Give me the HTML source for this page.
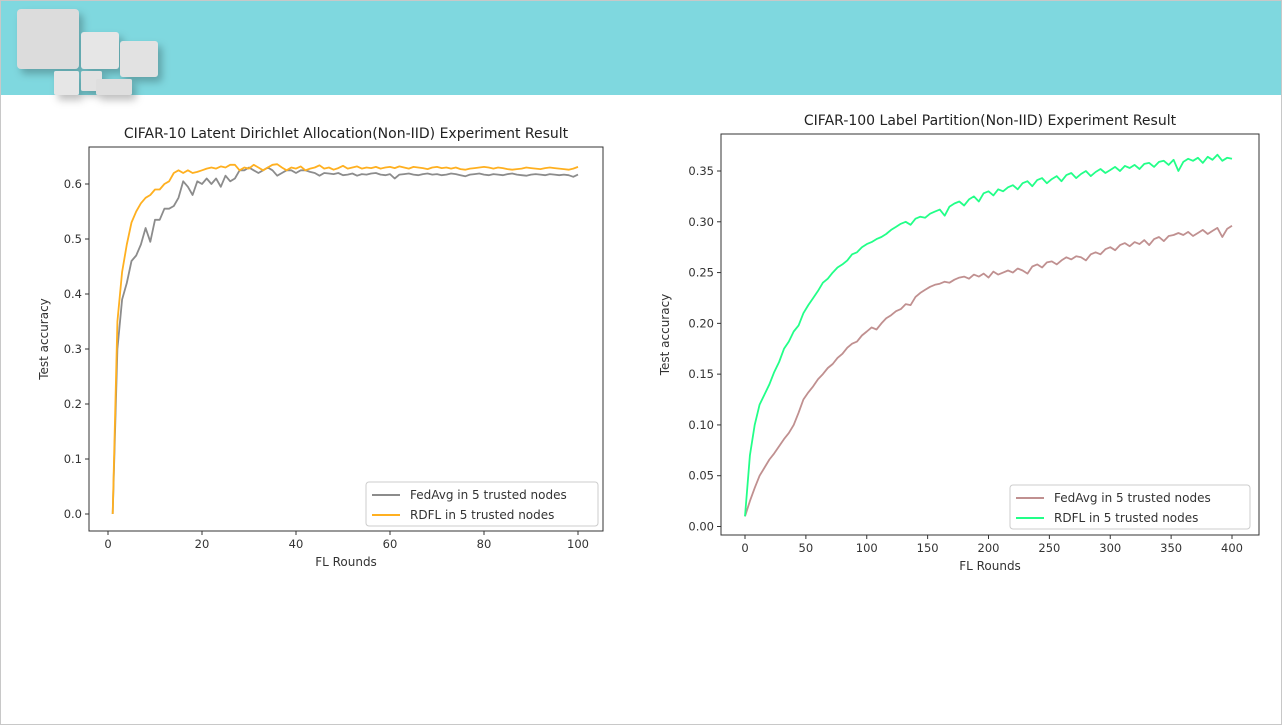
<!DOCTYPE html>
<html><head><meta charset="utf-8"><style>
body{margin:0;background:#fff}
svg{display:block;font-family:"DejaVu Sans","Liberation Sans",sans-serif}
</style></head><body>
<svg id="s" width="1282" height="725" viewBox="0 0 1282 725">
<defs><filter id="sh" x="-30%" y="-30%" width="160%" height="160%"><feDropShadow dx="4" dy="5" stdDeviation="4" flood-color="#000" flood-opacity="0.25"/></filter></defs>
<rect x="0.5" y="0.5" width="1281" height="724" fill="#fff" stroke="#c8c8c8"/>
<rect x="1" y="1" width="1280" height="94" fill="#7fd8df"/>
<g filter="url(#sh)">
<rect x="17" y="9" width="62" height="60" rx="4" fill="#dcdcdc"/>
<rect x="81" y="32" width="38" height="37" rx="3" fill="#e6e6e6"/>
<rect x="120" y="41" width="38" height="36" rx="3" fill="#e2e2e2"/>
<rect x="54" y="71" width="25" height="24" rx="2" fill="#e6e6e6"/>
<rect x="81" y="71" width="21" height="20" rx="2" fill="#e2e2e2"/>
<rect x="96" y="79" width="36" height="16" rx="2" fill="#dedede"/>
</g>
<g id="c1"></g>
<g id="c2"></g>
</svg>
<script>
const c10Rounds=[1,100];
const c10FedAvg=[0.0,0.30,0.39,0.42,0.46,0.47,0.49,0.52,0.495,0.535,0.535,0.555,0.555,0.56,0.575,0.605,0.595,0.58,0.605,0.60,0.61,0.60,0.61,0.595,0.615,0.605,0.61,0.625,0.625,0.63,0.625,0.62,0.625,0.63,0.625,0.615,0.62,0.625,0.625,0.62,0.625,0.625,0.622,0.62,0.615,0.62,0.619,0.618,0.62,0.616,0.617,0.619,0.615,0.618,0.617,0.619,0.62,0.617,0.616,0.618,0.61,0.617,0.618,0.619,0.617,0.616,0.618,0.619,0.617,0.618,0.616,0.617,0.619,0.618,0.616,0.614,0.617,0.618,0.619,0.617,0.616,0.618,0.617,0.616,0.618,0.619,0.617,0.616,0.615,0.617,0.618,0.617,0.616,0.618,0.617,0.616,0.617,0.616,0.613,0.617];
const c10RDFL=[0.0,0.35,0.44,0.49,0.53,0.55,0.565,0.575,0.58,0.59,0.59,0.60,0.605,0.62,0.625,0.62,0.625,0.62,0.622,0.625,0.628,0.63,0.628,0.632,0.63,0.635,0.635,0.625,0.63,0.628,0.635,0.63,0.625,0.63,0.635,0.636,0.63,0.625,0.63,0.628,0.632,0.625,0.628,0.63,0.634,0.628,0.63,0.626,0.629,0.633,0.628,0.63,0.632,0.628,0.63,0.629,0.631,0.628,0.63,0.631,0.629,0.632,0.63,0.628,0.631,0.63,0.629,0.627,0.63,0.631,0.629,0.63,0.628,0.63,0.627,0.626,0.628,0.629,0.63,0.631,0.63,0.628,0.63,0.629,0.627,0.626,0.627,0.628,0.63,0.629,0.628,0.627,0.629,0.63,0.629,0.628,0.627,0.626,0.628,0.631];
const c10YTicks=[0.0,0.1,0.2,0.3,0.4,0.5,0.6];
const c10XTicks=[0,20,40,60,80,100];
const c100Rounds=[0,400];
const c100FedAvg=[0.010,0.025,0.038,0.050,0.058,0.066,0.072,0.079,0.086,0.092,0.100,0.112,0.125,0.132,0.138,0.145,0.150,0.156,0.160,0.166,0.170,0.176,0.180,0.182,0.188,0.192,0.196,0.194,0.200,0.205,0.208,0.212,0.214,0.219,0.218,0.226,0.230,0.233,0.236,0.238,0.239,0.241,0.240,0.243,0.245,0.246,0.244,0.248,0.246,0.249,0.245,0.251,0.248,0.250,0.252,0.250,0.254,0.252,0.249,0.256,0.258,0.255,0.260,0.261,0.258,0.262,0.265,0.263,0.266,0.265,0.262,0.268,0.270,0.268,0.273,0.275,0.272,0.277,0.279,0.276,0.280,0.278,0.282,0.277,0.283,0.285,0.281,0.286,0.287,0.289,0.287,0.290,0.286,0.289,0.292,0.288,0.291,0.294,0.285,0.293,0.296];
const c100RDFL=[0.010,0.070,0.100,0.120,0.130,0.140,0.152,0.162,0.175,0.182,0.192,0.198,0.210,0.218,0.225,0.232,0.240,0.244,0.250,0.255,0.258,0.262,0.268,0.270,0.275,0.278,0.280,0.283,0.285,0.288,0.292,0.295,0.298,0.300,0.297,0.303,0.305,0.304,0.308,0.310,0.312,0.306,0.315,0.318,0.320,0.316,0.322,0.325,0.320,0.328,0.330,0.326,0.332,0.330,0.334,0.336,0.332,0.338,0.340,0.335,0.341,0.343,0.338,0.342,0.345,0.340,0.346,0.348,0.343,0.347,0.350,0.345,0.349,0.352,0.348,0.351,0.354,0.350,0.355,0.353,0.356,0.352,0.357,0.358,0.354,0.359,0.360,0.356,0.361,0.350,0.359,0.362,0.360,0.363,0.358,0.364,0.361,0.366,0.360,0.363,0.362];
const c100YTicks=[0.00,0.05,0.10,0.15,0.20,0.25,0.30,0.35];
const c100XTicks=[0,50,100,150,200,250,300,350,400];

const NS='http://www.w3.org/2000/svg';
function mk(p,t,a,txt){const e=document.createElementNS(NS,t);for(const k in a)e.setAttribute(k,a[k]);if(txt!==undefined)e.textContent=txt;p.appendChild(e);return e;}

function chart(g,cfg){
  const {box,x0,x1,px0,px1,y0,y1,py0,py1}=cfg;
  const X=v=>px0+(v-x0)/(x1-x0)*(px1-px0);
  const Y=v=>py0+(v-y0)/(y1-y0)*(py1-py0);
  const t=mk(g,'text',{x:(box[0]+box[2])/2,y:box[1]-9,'text-anchor':'middle','font-size':14,fill:'#222'},cfg.title);
  
  
  cfg.series.forEach(s=>{
    const n=s.v.length;
    const pts=s.v.map((v,i)=>X(cfg.rx[0]+i*(cfg.rx[1]-cfg.rx[0])/(n-1)).toFixed(1)+','+Y(v).toFixed(1)).join(' ');
    const l=mk(g,'polyline',{points:pts,fill:'none',stroke:s.c,'stroke-width':1.8,'stroke-linejoin':'round'});
    
    
  });
  const fr=mk(g,'rect',{x:box[0],y:box[1],width:box[2]-box[0],height:box[3]-box[1],fill:'none',stroke:'#333','stroke-width':1});
  
  
  cfg.yt.forEach(v=>{
    const y=Y(v);
    mk(g,'line',{x1:box[0]-4,x2:box[0],y1:y,y2:y,stroke:'#333'});
    const tl=mk(g,'text',{x:box[0]-7,y:y+4,'text-anchor':'end','font-size':11.5,fill:'#333'},v.toFixed(cfg.yd));
    
    
  });
  cfg.xt.forEach(v=>{
    const x=X(v);
    mk(g,'line',{x1:x,x2:x,y1:box[3],y2:box[3]+4,stroke:'#333'});
    const tl=mk(g,'text',{x:x,y:box[3]+17,'text-anchor':'middle','font-size':11.5,fill:'#333'},String(v));
    
    
  });
  const xl=mk(g,'text',{x:(box[0]+box[2])/2,y:box[3]+35,'text-anchor':'middle','font-size':12,fill:'#333'},'FL Rounds');
  
  
  const yl=mk(g,'text',{x:0,y:0,'text-anchor':'middle','font-size':12,fill:'#333',transform:`translate(${cfg.ylx},${(box[1]+box[3])/2}) rotate(-90)`},'Test accuracy');
  
  
  const lg=mk(g,'g',{});
  
  
  const L=cfg.leg;
  mk(lg,'rect',{x:L[0],y:L[1],width:L[2],height:44,rx:3,fill:'#fff',stroke:'#ccc'});
  cfg.series.forEach((s,i)=>{
    const yy=L[1]+13+i*20;
    const e=mk(lg,'g',{});
    
    
    mk(e,'line',{x1:L[0]+6,x2:L[0]+34,y1:yy,y2:yy,stroke:s.c,'stroke-width':2});
    mk(e,'text',{x:L[0]+44,y:yy+4,'font-size':12,fill:'#333'},s.label);
  });
}
chart(document.getElementById('c1'),{title:'CIFAR-10 Latent Dirichlet Allocation(Non-IID) Experiment Result',
  box:[89,147,603,531],x0:0,x1:100,px0:108,px1:578,y0:0,y1:0.6,py0:514,py1:184,rx:c10Rounds,yd:1,
  yt:c10YTicks,xt:c10XTicks,ylx:48,leg:[366,482],
  series:[{v:c10FedAvg,c:'#8c8c8c',name:'fedavg-line',label:'FedAvg in 5 trusted nodes'},{v:c10RDFL,c:'#ffb020',name:'rdfl-line',label:'RDFL in 5 trusted nodes'}]});
document.querySelector('#c1 rect[rx="3"]').setAttribute('width',232);
chart(document.getElementById('c2'),{title:'CIFAR-100 Label Partition(Non-IID) Experiment Result',
  box:[721,134,1259,535],x0:0,x1:400,px0:745,px1:1232,y0:0,y1:0.35,py0:526.5,py1:171,rx:c100Rounds,yd:2,
  yt:c100YTicks,xt:c100XTicks,ylx:669,leg:[1010,485],
  series:[{v:c100FedAvg,c:'#c09090',name:'fedavg-line',label:'FedAvg in 5 trusted nodes'},{v:c100RDFL,c:'#22ff88',name:'rdfl-line',label:'RDFL in 5 trusted nodes'}]});
document.querySelector('#c2 rect[rx="3"]').setAttribute('width',240);
</script>
</body></html>
